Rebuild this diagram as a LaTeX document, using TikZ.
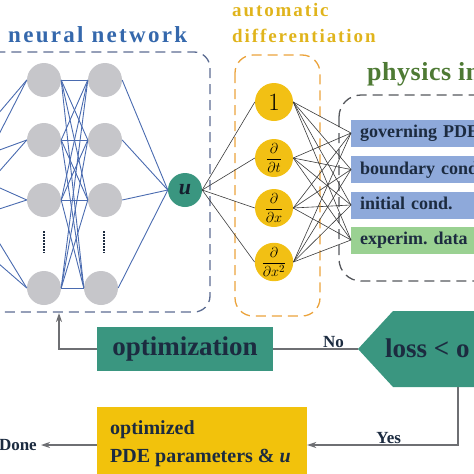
\documentclass[tikz,border=0pt]{standalone}
\usepackage[no-math]{fontspec}
\usepackage{amsmath}
\setmainfont{Liberation Serif}
\usetikzlibrary{arrows.meta}
\definecolor{nnblue}{HTML}{3568AC}
\definecolor{nnedge}{HTML}{4A6BB0}
\definecolor{nndash}{HTML}{5C6C92}
\definecolor{nngray}{HTML}{C6C6CA}
\definecolor{adgold}{HTML}{F2C014}
\definecolor{adtext}{HTML}{E0B41C}
\definecolor{addash}{HTML}{EBA33C}
\definecolor{adedge}{HTML}{3A3A3A}
\definecolor{phgreen}{HTML}{4E7A34}
\definecolor{phdash}{HTML}{55575C}
\definecolor{pdeblue}{HTML}{8EA9DA}
\definecolor{datagreen}{HTML}{9AD192}
\definecolor{tealbox}{HTML}{3A9680}
\definecolor{resgold}{HTML}{F2C20C}
\definecolor{navy}{HTML}{1C2B40}
\definecolor{flow}{HTML}{6E6F73}

\begin{document}
\begin{tikzpicture}[x=1pt,y=-1pt,
    hid/.style={circle,fill=nngray,minimum size=34pt,inner sep=0pt},
    adnode/.style={circle,fill=adgold,minimum size=38pt,inner sep=0pt,font=\fontsize{15}{17}\selectfont},
    cond/.style={anchor=west,fill=#1,minimum width=166pt,minimum height=27pt,text width=150pt,
      inner xsep=9pt,inner ysep=0pt,text height=12pt,text depth=3pt,align=left,text=navy,
      font=\fontsize{18}{20}\selectfont\bfseries\frenchspacing},
    title/.style 2 args={anchor=base west,inner sep=0pt,
      font=\fontsize{#1}{#1}\selectfont\bfseries\addfontfeature{LetterSpace=#2}},
    nnline/.style={nnedge,line width=0.9pt},
    adline/.style={adedge,line width=0.6pt},
    flowline/.style={flow,line width=1.4pt},
    flowarrow/.style={flowline,-{Stealth[length=9pt,width=6pt]}},
    lbl/.style={text=navy,inner sep=1pt,font=\fontsize{17}{19}\selectfont\bfseries}]
  \useasboundingbox (0,0) rectangle (474,474);
  \clip (0,0) rectangle (474,474);

  % titles
  \node[title={23}{10},text=nnblue] (nntitle) at (8,42) {neural network};
  \node[title={19}{10},text=adtext] (adtitle1) at (232,16) {automatic};
  \node[title={19}{10},text=adtext] (adtitle2) at (232,42) {differentiation};
  \node[title={26}{2},text=phgreen] (phtitle) at (367,80) {physics informed};

  % dashed frames
  \draw[nndash,line width=1.3pt,dash pattern=on 10pt off 6pt,rounded corners=16pt] (-30,52) rectangle (210,312);
  \draw[addash,line width=1.3pt,dash pattern=on 10pt off 6pt,rounded corners=18pt] (235,55) rectangle (320,316);
  \draw[phdash,line width=1.3pt,dash pattern=on 10pt off 6pt,rounded corners=22pt] (339,95) rectangle (520,281);

  % neural network
  \coordinate (xin) at (-47,167);
  \coordinate (tin) at (-47,224);
  \foreach \y [count=\i] in {80,140,200,288} {
    \node[hid] (h1-\i) at (44,\y) {};
  }
  \foreach \x/\y [count=\i] in {105/80,105/140,105/200,101/288} {
    \node[hid] (h2-\i) at (\x,\y) {};
  }
  \node[circle,fill=tealbox,minimum size=34pt,inner sep=0pt,text=navy!70!black,
    font=\fontsize{22}{24}\selectfont\bfseries\itshape] (u) at (185,190) {u};
  \foreach \i in {1,...,4} {
    \draw[nnline] (xin) -- (h1-\i.west);
    \draw[nnline] (tin) -- (h1-\i.west);
    \draw[nnline] (h2-\i.east) -- (u.west);
    \foreach \j in {1,...,4}
      \draw[nnline] (h1-\i.east) -- (h2-\j.west);
  }
  \draw[navy,line width=2pt,dash pattern=on 1.5pt off 1.5pt] (44,231) -- (44,253);
  \draw[navy,line width=2pt,dash pattern=on 1.5pt off 1.5pt] (104,231) -- (104,253);

  % automatic differentiation
  \node[adnode,font=\fontsize{26}{28}\selectfont] (ad-1) at (274,102) {$1$};
  \node[adnode] (ad-2) at (274,158) {$\dfrac{\partial}{\partial t}$};
  \node[adnode] (ad-3) at (274,208) {$\dfrac{\partial}{\partial x}$};
  \node[adnode] (ad-4) at (274,262) {$\dfrac{\partial}{\partial x^2}$};

  % physics information
  \node[cond=pdeblue] (ph-1) at (351,133) {governing PDE};
  \node[cond=pdeblue] (ph-2) at (351,169.5) {boundary cond.};
  \node[cond=pdeblue] (ph-3) at (351,205) {initial cond.};
  \node[cond=datagreen] (ph-4) at (351,240) {experim. data};

  \foreach \i in {1,...,4} {
    \draw[adline] (u.east) -- (ad-\i.west);
    \foreach \j in {1,...,4}
      \draw[adline] (ad-\i.east) -- (ph-\j.west);
  }

  % training loop
  \fill[tealbox] (358,349) -- (393,311) -- (490,311) -- (490,387) -- (393,387) -- cycle;
  \coordinate (losstip) at (358,349);
  \coordinate (lossfoot) at (458,387);
  \coordinate (nnfoot) at (59,313);
  \node[anchor=base west,inner sep=0pt,text=navy,font=\fontsize{27}{30}\selectfont\bfseries] (loss) at (385,357) {loss < o};
  \node[fill=tealbox,minimum width=176pt,minimum height=44pt,inner sep=0pt,text=navy,
    font=\fontsize{27}{30}\selectfont\bfseries] (opt) at (185,349) {optimization};
  \node[fill=resgold,minimum width=210pt,minimum height=76pt,inner sep=0pt] (res) at (202,445) {};
  \node[anchor=west,align=left,inner sep=0pt,text=navy,font=\fontsize{20}{28}\selectfont\bfseries]
    (restext) at (110,444) {optimized\\PDE parameters \& \textit{u}};
  \node[anchor=east,inner xsep=4pt,text=navy,font=\fontsize{17}{19}\selectfont\bfseries] (done) at (41,445) {Done};

  \draw[flowline] (losstip) -- node[lbl,above,pos=0.29] {No} (opt.east);
  \draw[flowarrow] (opt.west) -| (nnfoot);
  \draw[flowarrow] (lossfoot) |- node[lbl,above,pos=0.73] {Yes} (res.east);
  \draw[flowarrow] (res.west) -- (done.east);
\end{tikzpicture}
\end{document}
